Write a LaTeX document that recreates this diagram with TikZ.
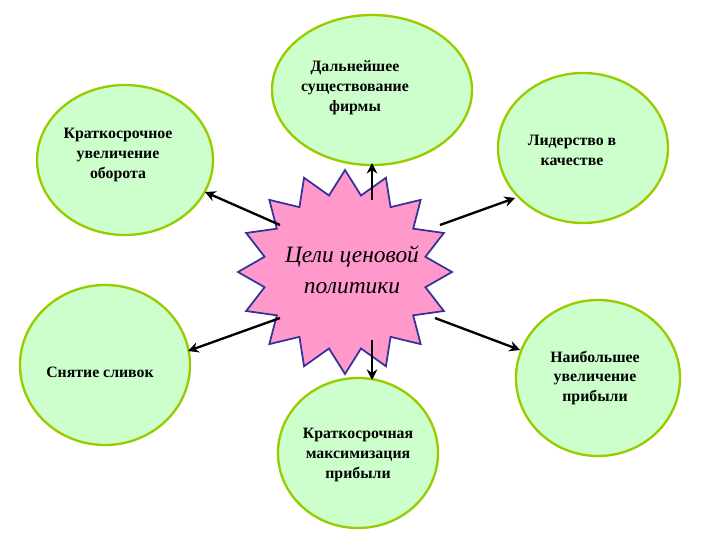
\documentclass[tikz,border=0pt]{standalone}
\usepackage{fontspec}
\setmainfont{Liberation Serif}
\usetikzlibrary{arrows.meta}
\begin{document}
\begin{tikzpicture}[x=0.03cm,y=-0.03cm,
  goal/.style={draw={rgb,255:red,153;green,204;blue,0},fill={rgb,255:red,204;green,255;blue,204},line width=2pt},
  lbl/.style={font=\bfseries\fontsize{13.5}{17}\selectfont,align=center},
  arr/.style={line width=2pt,-{Stealth[length=9pt,width=9pt,open]}}]
\useasboundingbox (0,0) rectangle (720,540);
\draw[goal] (372,90) ellipse [x radius=100,y radius=75];
\draw[goal] (125,160) ellipse [x radius=88,y radius=75];
\draw[goal] (583,148) ellipse [x radius=85,y radius=75];
\draw[goal] (105,365) ellipse [x radius=85,y radius=80];
\draw[goal] (598,378) ellipse [x radius=82,y radius=78];
\draw[goal] (358,453) ellipse [x radius=80,y radius=75];
\node[lbl] (t) at (355,88) {Дальнейшее\\существование\\фирмы};
\node[lbl] (tl) at (118,155) {Краткосрочное\\увеличение\\оборота};
\node[lbl] (tr) at (572,150) {Лидерство в\\качестве};
\node[lbl] (bl) at (100,372) {Снятие сливок};
\node[lbl] (br) at (595,378) {Наибольшее\\увеличение\\прибыли};
\node[lbl] (b) at (358,455) {Краткосрочная\\максимизация\\прибыли};
\draw[draw={rgb,255:red,51;green,51;blue,153},fill={rgb,255:red,255;green,153;blue,204},line width=1.5pt]
  plot[samples=33,domain=0:32,variable=\i] ({345+(mod(\i,2)==0 ? 107 : 82)*cos(\i*360/32+90)},{272-(mod(\i,2)==0 ? 102 : 78)*sin(\i*360/32+90)}) -- cycle;
\node[font=\itshape\fontsize{20}{26}\selectfont,align=center] (c) at (352,270) {Цели ценовой\\политики};
\coordinate (s1) at (372,200); \coordinate (e1) at (372,163);
\coordinate (s2) at (280,225); \coordinate (e2) at (205,192);
\coordinate (s3) at (440,225); \coordinate (e3) at (515,198);
\coordinate (s4) at (280,318); \coordinate (e4) at (188,351);
\coordinate (s5) at (435,318); \coordinate (e5) at (520,350);
\coordinate (s6) at (372,340); \coordinate (e6) at (372,380);
\foreach \k in {1,...,6} \draw[arr] (s\k) -- (e\k);
\end{tikzpicture}
\end{document}
